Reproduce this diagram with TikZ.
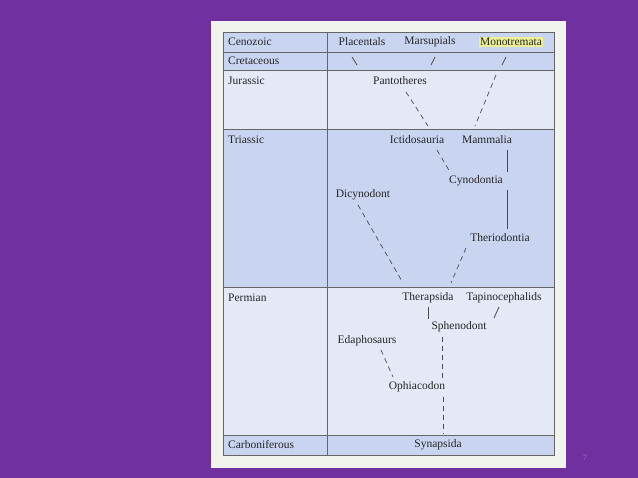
\documentclass[tikz,border=0pt]{standalone}
\usepackage{fontspec}
\setmainfont{Liberation Serif}
\begin{document}
\begin{tikzpicture}[x=1pt,y=-1pt,
  lbl/.style={inner sep=1pt,font=\fontsize{11.5}{13}\selectfont,text=black!85},
  era/.style={lbl,anchor=west},
  dl/.style={draw=black!70,line width=0.7pt,dash pattern=on 5pt off 4pt},
  sl/.style={draw=black!70,line width=0.8pt}]
\fill[fill={rgb,255:red,112;green,48;blue,160}] (0,0) rectangle (638,478);
\fill[fill={rgb,255:red,240;green,244;blue,236}] (211,21) rectangle (566,468);
\definecolor{rb}{RGB}{200,212,240}
\definecolor{rl}{RGB}{228,232,247}
\fill[rb] (223,32) rectangle (554,52);
\fill[rb] (223,52) rectangle (554,70);
\fill[rl] (223,70) rectangle (554,129);
\fill[rb] (223,129) rectangle (554,287);
\fill[rl] (223,287) rectangle (554,435);
\fill[rb] (223,435) rectangle (554,455);
\draw[black!60,line width=0.8pt] (223,32) rectangle (554,455);
\foreach \yy in {52,70,129,287,435} \draw[black!60,line width=0.8pt] (223,\yy) -- (554,\yy);
\draw[black!60,line width=0.8pt] (327,32) -- (327,455);
\node[era] (ceno) at (227,42) {Cenozoic};
\node[era] (cret) at (227,61) {Cretaceous};
\node[era] (jur) at (227,81) {Jurassic};
\node[era] (tri) at (227,140) {Triassic};
\node[era] (perm) at (227,298) {Permian};
\node[era] (carb) at (227,445) {Carboniferous};
\node[lbl] (plac) at (362,42) {Placentals};
\node[lbl] (mars) at (430,42) {Marsupials};
\node[lbl,fill={rgb,255:red,238;green,240;blue,150}] (mono) at (511,42) {Monotremata};
\coordinate (c1a) at (352,57); \coordinate (c1b) at (357,65);
\coordinate (c2a) at (435,57); \coordinate (c2b) at (431,65);
\coordinate (c3a) at (506,57); \coordinate (c3b) at (502,65);
\draw[sl] (c1a) -- (c1b); \draw[sl] (c2a) -- (c2b); \draw[sl] (c3a) -- (c3b);
\node[lbl] (pant) at (400,81) {Pantotheres};
\coordinate (p1) at (406,92); \coordinate (p2) at (428,126);
\draw[dl] (p1) -- (p2);
\coordinate (m1) at (496,75); \coordinate (m2) at (475,126);
\draw[dl] (m1) -- (m2);
\node[lbl] (icti) at (417,140) {Ictidosauria};
\node[lbl] (mamm) at (487,140) {Mammalia};
\node[lbl] (cyno) at (476,181) {Cynodontia};
\node[lbl] (dicy) at (363,195) {Dicynodont};
\node[lbl] (ther) at (500,238) {Theriodontia};
\coordinate (i1) at (437,150); \coordinate (i2) at (450,172);
\draw[dl] (i1) -- (i2);
\coordinate (ma1) at (507,150); \coordinate (ma2) at (507,172);
\draw[sl] (ma1) -- (ma2);
\coordinate (cy1) at (507,190); \coordinate (cy2) at (507,229);
\draw[sl] (cy1) -- (cy2);
\coordinate (d1) at (358,205); \coordinate (d2) at (403,283);
\draw[dl] (d1) -- (d2);
\coordinate (t1) at (466,248); \coordinate (t2) at (451,283);
\draw[dl] (t1) -- (t2);
\node[lbl] (thps) at (428,298) {Therapsida};
\node[lbl] (tapi) at (504,298) {Tapinocephalids};
\node[lbl] (sphe) at (459,327) {Sphenodont};
\node[lbl] (edap) at (367,341) {Edaphosaurs};
\node[lbl] (ophi) at (417,387) {Ophiacodon};
\node[lbl] (syna) at (438,445) {Synapsida};
\coordinate (th1) at (428,307); \coordinate (th2) at (428,319);
\draw[sl] (th1) -- (th2);
\coordinate (ta1) at (499,307); \coordinate (ta2) at (494,318);
\draw[sl] (ta1) -- (ta2);
\coordinate (s1) at (442,337); \coordinate (s2) at (442,378);
\draw[dl] (s1) -- (s2);
\coordinate (e1) at (381,350); \coordinate (e2) at (393,377);
\draw[dl] (e1) -- (e2);
\coordinate (o1) at (443,397); \coordinate (o2) at (443,434);
\draw[dl] (o1) -- (o2);
\node[font=\fontsize{8}{9}\selectfont,text={rgb,255:red,160;green,120;blue,200}] (pg) at (585,458) {7};
\end{tikzpicture}
\end{document}
